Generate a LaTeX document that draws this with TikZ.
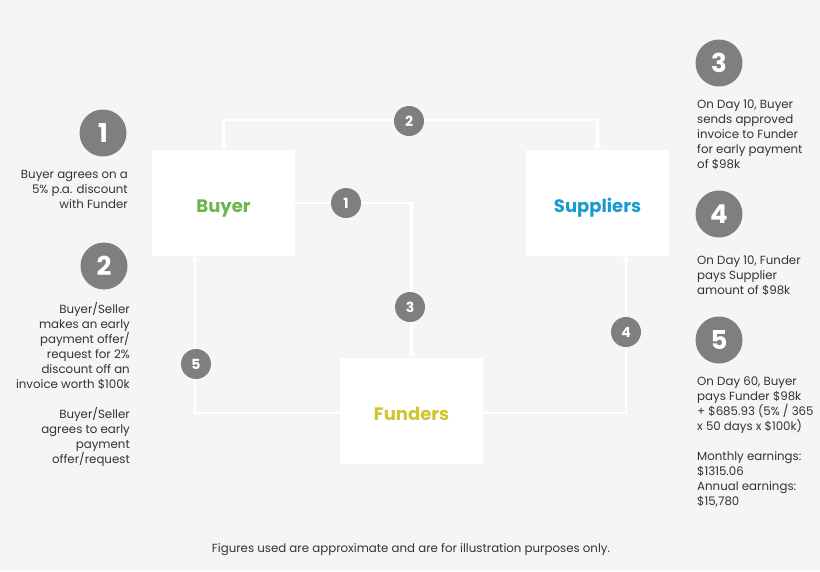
\documentclass[tikz,border=0pt]{standalone}
\usepackage{fontspec}
\setmainfont{Poppins}
\usetikzlibrary{arrows.meta}
\definecolor{page-bg}{HTML}{F5F5F5}
\definecolor{badge-gray}{HTML}{7F7F7F}
\definecolor{text-gray}{HTML}{333333}
\definecolor{buyer-green}{HTML}{6DB54A}
\definecolor{supplier-blue}{HTML}{1B9AD2}
\definecolor{funder-yellow}{HTML}{CFC52E}
\tikzset{
    party-box/.style = {fill=white, rectangle, minimum width=143pt, minimum height=106pt, text height=19pt, text depth=0pt, font=\fontsize{18}{20}\selectfont\bfseries},
    flow-line/.style = {draw=white, line width=2.2pt, -{Triangle[width=8pt,length=5pt]}},
    badge-small/.style = {circle, fill=badge-gray, text=white, minimum size=30pt, inner sep=0pt, font=\fontsize{14}{14}\selectfont\bfseries},
    badge-big/.style = {circle, fill=badge-gray, text=white, minimum size=47pt, inner sep=0pt, font=\fontsize{26}{26}\selectfont\bfseries},
    note-left/.style = {anchor=north east, align=right, inner sep=0pt, text=text-gray, font=\fontsize{11.8}{15}\selectfont},
    note-right/.style = {anchor=north west, align=left, inner sep=0pt, text=text-gray, font=\fontsize{11.8}{15}\selectfont},
}
\begin{document}
\begin{tikzpicture}[x=1pt,y=-1pt]
\fill[page-bg] (0,0) rectangle (820,571);
\useasboundingbox (0,0) rectangle (820,571);
% the three parties
\node[party-box, text=buyer-green] (buyer) at (223.5,203) {Buyer};
\node[party-box, text=supplier-blue] (suppliers) at (597.5,203) {Suppliers};
\node[party-box, text=funder-yellow] (funders) at (411.5,411) {Funders};
% flows
\draw[flow-line, {Triangle[width=8pt,length=5pt]}-{Triangle[width=8pt,length=5pt]}] (buyer.north) -- ++(0,-30) -| (suppliers.north);
\draw[flow-line] (buyer.east) -| (funders.north);
\draw[flow-line] ([yshift=-2]funders.west) -| ([xshift=-28.5]buyer.south);
\draw[flow-line] ([yshift=-2]funders.east) -| ([xshift=28.5]suppliers.south);
\node[badge-small] (flow-one) at (346,203) {1};
\node[badge-small] (flow-two) at (409,121) {2};
\node[badge-small] (flow-three) at (410,307) {3};
\node[badge-small] (flow-four) at (626,332) {4};
\node[badge-small] (flow-five) at (196,364) {5};
% left notes
\node[badge-big] (note-one) at (103,133) {1};
\node[note-left] (text-one) at (128,170) {Buyer agrees on a\\5\% p.a. discount\\with Funder};
\node[badge-big] (note-two) at (104,266) {2};
\node[note-left] (text-two) at (130,302) {Buyer/Seller\\makes an early\\payment offer/\\request for 2\%\\discount off an\\invoice worth \$100k\\[15pt]Buyer/Seller\\agrees to early\\payment\\offer/request};
% right notes
\node[badge-big] (note-three) at (719,63) {3};
\node[note-right] (text-three) at (697,100) {On Day 10, Buyer\\sends approved\\invoice to Funder\\for early payment\\of \$98k};
\node[badge-big] (note-four) at (719,214) {4};
\node[note-right] (text-four) at (697,256) {On Day 10, Funder\\pays Supplier\\amount of \$98k};
\node[badge-big] (note-five) at (719,340) {5};
\node[note-right] (text-five) at (697,377) {On Day 60, Buyer\\pays Funder \$98k\\+ \$685.93 (5\% / 365\\x 50 days x \$100k)\\[15pt]Monthly earnings:\\\$1315.06\\Annual earnings:\\\$15,780};
% footnote
\node[text=text-gray, font=\fontsize{11.8}{14}\selectfont] (footnote) at (411,550) {Figures used are approximate and are for illustration purposes only.};
\end{tikzpicture}
\end{document}
